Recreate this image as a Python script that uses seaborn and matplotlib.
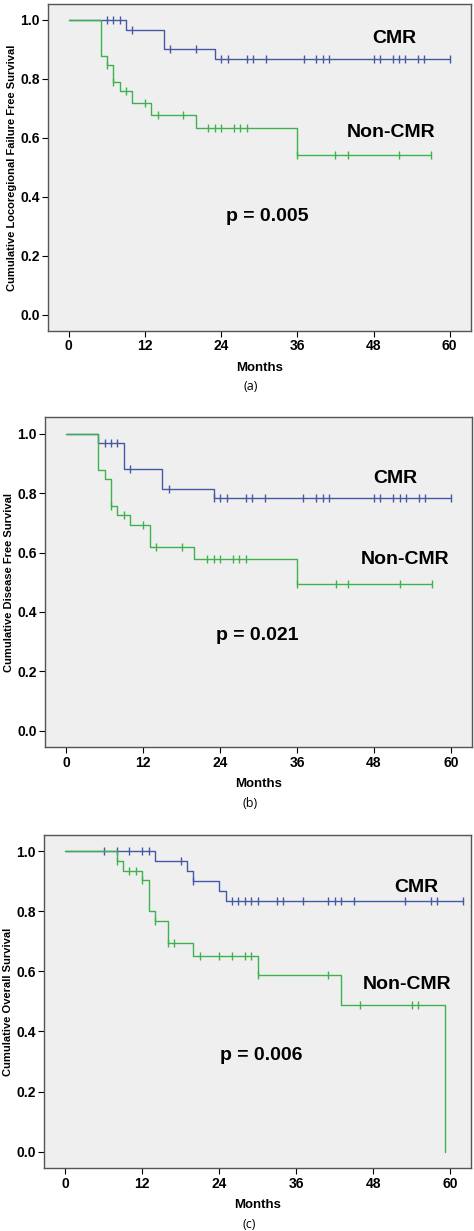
import numpy as np
import pandas as pd
import matplotlib
matplotlib.use('Agg')
import matplotlib.pyplot as plt
import seaborn as sns

sns.set_style('white')
plt.rcParams['font.family'] = ['Liberation Sans', 'DejaVu Sans']
plt.rcParams['text.color'] = 'black'
plt.rcParams['axes.labelcolor'] = 'black'
plt.rcParams['xtick.color'] = 'black'
plt.rcParams['ytick.color'] = 'black'

# (a) locoregional failure free survival
a_cmr_t = [0, 9, 15, 23]
a_cmr_s = [1.0, 0.967, 0.903, 0.867]
a_cmr_end = 60
a_cmr_cens = [6, 7, 8, 10, 16, 20, 24, 25, 28, 29, 31, 37, 39, 40, 41, 48, 49, 51, 52, 53, 55, 56, 60]
a_non_t = [0, 5, 6, 7, 8, 10, 13, 20, 36]
a_non_s = [1.0, 0.879, 0.848, 0.788, 0.758, 0.717, 0.677, 0.633, 0.543]
a_non_end = 57
a_non_cens = [6, 7, 9, 12, 14, 18, 22, 23, 24, 26, 27, 28, 36, 42, 44, 52, 57]

# (b) disease free survival
b_cmr_t = [0, 5, 9, 15, 23]
b_cmr_s = [1.0, 0.970, 0.880, 0.815, 0.782]
b_cmr_end = 60
b_cmr_cens = [6, 7, 8, 10, 16, 23, 24, 25, 28, 29, 31, 37, 39, 40, 41, 48, 49, 51, 52, 53, 55, 56, 60]
b_non_t = [0, 5, 6, 7, 8, 10, 13, 20, 36]
b_non_s = [1.0, 0.879, 0.848, 0.758, 0.727, 0.692, 0.617, 0.578, 0.495]
b_non_end = 57
b_non_cens = [7, 9, 12, 14, 18, 22, 23, 24, 26, 27, 28, 36, 42, 44, 52, 57]

# (c) overall survival
c_cmr_t = [0, 14, 19, 20, 24, 25]
c_cmr_s = [1.0, 0.967, 0.933, 0.900, 0.867, 0.833]
c_cmr_end = 62
c_cmr_cens = [6, 8, 10, 12, 13, 18, 20, 26, 27, 28, 29, 30, 33, 34, 37, 41, 42, 43, 45, 53, 57, 58, 62]
c_non_t = [0, 8, 9, 12, 13, 14, 16, 20, 30, 43, 59.2]
c_non_s = [1.0, 0.967, 0.935, 0.903, 0.800, 0.767, 0.693, 0.652, 0.587, 0.489, 0.0]
c_non_end = 59.2
c_non_cens = [8, 10, 11, 12, 14, 16, 17, 21, 24, 26, 28, 29, 30, 41, 46, 54, 55]

blue = '#4657a5'
green = '#3db24e'

panels = [
    ('Cumulative Locoregional Failure Free Survival', 'p = 0.005', '(a)',
     (a_cmr_t, a_cmr_s, a_cmr_end, a_cmr_cens), (a_non_t, a_non_s, a_non_end, a_non_cens),
     (0.101, 0.731, 0.892, 0.266), (51.2, 0.936), (50.7, 0.619), (31.3, 0.333)),
    ('Cumulative Disease Free Survival', 'p = 0.021', '(b)',
     (b_cmr_t, b_cmr_s, b_cmr_end, b_cmr_cens), (b_non_t, b_non_s, b_non_end, b_non_cens),
     (0.095, 0.393, 0.901, 0.268), (51.4, 0.849), (52.8, 0.575), (29.8, 0.32)),
    ('Cumulative Overall Survival', 'p = 0.006', '(c)',
     (c_cmr_t, c_cmr_s, c_cmr_end, c_cmr_cens), (c_non_t, c_non_s, c_non_end, c_non_cens),
     (0.093, 0.051, 0.901, 0.271), (54.7, 0.88), (53.3, 0.555), (30.6, 0.319)),
]


def step_value(t, s, x):
    i = np.searchsorted(np.array(t), x, side='right') - 1
    return np.array(s)[i]


fig = plt.figure(figsize=(4.74, 12.31), dpi=100)
for ylab, ptxt, tag, cmr, non, rect, pos_cmr, pos_non, pos_p in panels:
    ax = fig.add_axes(rect)
    ax.set_facecolor('#efefef')
    for (t, s, end, cens), col in [(cmr, blue), (non, green)]:
        df = pd.DataFrame({'t': list(t) + [end], 's': list(s) + [s[-1]]})
        sns.lineplot(data=df, x='t', y='s', drawstyle='steps-post', color=col,
                     lw=1.0, ax=ax, estimator=None, sort=False)
        if t[-1] == end:
            cy = [step_value(t[:-1], s[:-1], c) for c in cens]
        else:
            cy = [step_value(t, s, c) for c in cens]
        sns.scatterplot(x=cens, y=cy, marker='|', s=30, color=col, linewidth=1.0, ax=ax)
    ax.set_xlim(-3.3, 63.3)
    ax.set_ylim(-0.055, 1.055)
    ax.set_xticks(range(0, 61, 12))
    ax.set_yticks(np.arange(0, 1.01, 0.2))
    ax.yaxis.set_major_formatter(matplotlib.ticker.FormatStrFormatter('%.1f'))
    ax.tick_params(direction='out', length=4, labelsize=10, width=0.8, left=True, bottom=True, pad=2)
    for lab in ax.get_xticklabels() + ax.get_yticklabels():
        lab.set_fontweight('bold')
    for sp in ax.spines.values():
        sp.set_color('#555555')
        sp.set_linewidth(1.0)
    ax.set_ylabel(ylab, fontsize=8, fontweight='bold', labelpad=2)
    ax.set_xlabel('Months', fontsize=9.5, fontweight='bold', labelpad=6)
    ax.text(*pos_cmr, 'CMR', fontsize=14, fontweight='bold', ha='center', va='center')
    ax.text(*pos_non, 'Non-CMR', fontsize=14, fontweight='bold', ha='center', va='center')
    ax.text(*pos_p, ptxt, fontsize=14, fontweight='bold', ha='center', va='center')
    ax.text(0.48, -0.17, tag, transform=ax.transAxes, fontsize=9, ha='center', va='center',
            family=['Open Sans', 'DejaVu Sans'])

fig.savefig('out.png', dpi=100)
